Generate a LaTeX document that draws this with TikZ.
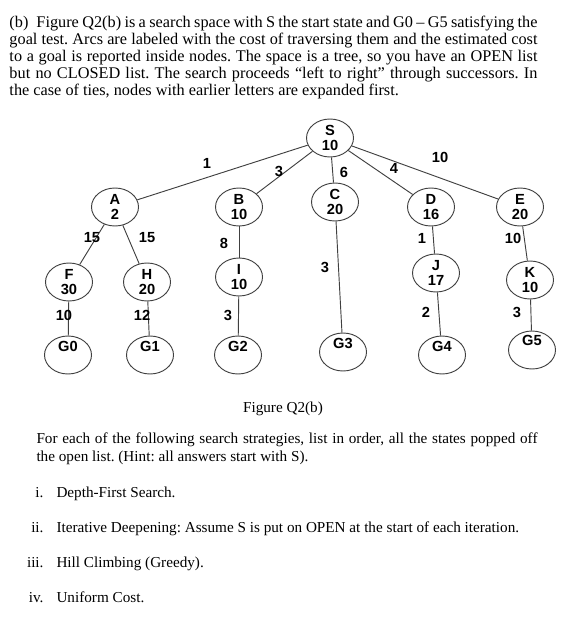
\documentclass[tikz,border=0pt]{standalone}
\usepackage{fontspec}
\setmainfont{Liberation Serif}
\newfontfamily\arialfont{Liberation Sans}
\usetikzlibrary{shapes.geometric}

\newcommand\treefont{\arialfont\bfseries\fontsize{11}{11.5}\selectfont}
\newcommand\bodyfont{\fontsize{11.4}{13.5}\selectfont\frenchspacing}
\newcommand\introfont{\fontsize{12.2}{12.7}\selectfont\frenchspacing}

\tikzset{every picture/.style={line width=0.75pt}}
\tikzset{
  state/.style={draw=black!75, line width=0.7pt, ellipse, minimum width=35.25pt, minimum height=28.5pt, inner sep=0pt, align=center, font=\treefont},
  goal/.style={state},
  glab/.style={inner sep=0pt, font=\treefont},
  cost/.style={inner sep=0.75pt, font=\treefont},
  arc/.style={draw=black!75, line width=0.7pt},
  body/.style={inner sep=0pt, font=\bodyfont}
}

\begin{document}
\begin{tikzpicture}[x=0.75pt,y=0.75pt,yscale=-1,xscale=1]
\useasboundingbox (0,0) rectangle (568,620);

% Text Node
\node [body, font=\introfont, anchor=base west, text width=396pt, align=justify] (intro) at (9,28) {\noindent\hangindent=20.25pt\hangafter=1\makebox[20.25pt][l]{(b)}Figure Q2(b) is a search space with S the start state and G0 -- G5 satisfying the\linebreak goal test. Arcs are labeled with the cost of traversing them and the estimated cost\linebreak to a goal is reported inside nodes. The space is a tree, so you have an OPEN list\linebreak but no CLOSED list. The search proceeds “left to right” through successors. In\linebreak the case of ties, nodes with earlier letters are expanded first.};

%Shape: Ellipse (states)
\node [state] (s) at (330,138) {S\\10};
\node [state] (a) at (115,207) {A\\2};
\node [state] (b) at (239,207) {B\\10};
\node [state] (c) at (335,202) {C\\20};
\node [state] (d) at (431,207) {D\\16};
\node [state] (e) at (520,207) {E\\20};
\node [state] (f) at (69,282) {F\\30};
\node [state] (h) at (147,282) {H\\20};
\node [state] (i) at (239,277) {I\\10};
\node [state] (j) at (436,273) {J\\17};
\node [state] (k) at (530,280) {K\\10};

%Shape: Ellipse (goals)
\node [goal] (g0) at (68,355) {};
\node [goal] (g1) at (150,355) {};
\node [goal] (g2) at (238,355) {};
\node [goal] (g3) at (343,352) {};
\node [goal] (g4) at (442,355) {};
\node [goal] (g5) at (532,350) {};
\path (g0.center) ++(0,-9) node [glab] (g0l) {G0};
\path (g1.center) ++(0,-9) node [glab] (g1l) {G1};
\path (g2.center) ++(0,-9) node [glab] (g2l) {G2};
\path (g3.center) ++(0,-9) node [glab] (g3l) {G3};
\path (g4.center) ++(0,-9) node [glab] (g4l) {G4};
\path (g5.center) ++(0,-10) node [glab] (g5l) {G5};

%Straight Lines
\draw [arc] (s) -- (a);
\draw [arc] (s) -- (b);
\draw [arc] (s) -- (c);
\draw [arc] (s) -- (d);
\draw [arc] (s) -- (e);
\draw [arc] (a) -- (f);
\draw [arc] (a) -- (h);
\draw [arc] (b) -- (i);
\draw [arc] (c) -- (g3);
\draw [arc] (d) -- (j);
\draw [arc] (e) -- (k);
\draw [arc] (f) -- (g0);
\draw [arc] (h) -- (g1);
\draw [arc] (i) -- (g2);
\draw [arc] (j) -- (g4);
\draw [arc] (k) -- (g5);

% Text Node (arc costs)
\node [cost] (csa) at (207,163) {1};
\node [cost] (csb) at (279,171) {3};
\node [cost] (csc) at (344,172) {6};
\node [cost] (csd) at (394,168) {4};
\node [cost] (cse) at (440,157) {10};
\node [cost] (caf) at (92,238) {15};
\node [cost] (cah) at (147,238) {15};
\node [cost] (cbi) at (224,243) {8};
\node [cost] (cdj) at (422,238) {1};
\node [cost] (cek) at (513,238) {10};
\node [cost] (cfg) at (64,315) {10};
\node [cost] (chg) at (142,315) {12};
\node [cost] (cig) at (228,315) {3};
\node [cost] (ccg) at (325,267) {3};
\node [cost] (cjg) at (426,312) {2};
\node [cost] (ckg) at (517,312) {3};

% Text Node
\node [body, anchor=base] (caption) at (283,412) {Figure Q2(b)};
% Text Node
\node [body, anchor=base west, text width=375.75pt, align=justify] (task) at (36,443) {For each of the following search strategies, list in order, all the states popped off\linebreak the open list. (Hint: all answers start with S).};
% Text Node
\node [body, anchor=base east] (n1) at (44,497) {i.};
\node [body, anchor=base west] (t1) at (56,497) {Depth-First Search.};
\node [body, anchor=base east] (n2) at (44,532) {ii.};
\node [body, anchor=base west] (t2) at (56,532) {Iterative Deepening: Assume S is put on OPEN at the start of each iteration.};
\node [body, anchor=base east] (n3) at (44,567) {iii.};
\node [body, anchor=base west] (t3) at (56,567) {Hill Climbing (Greedy).};
\node [body, anchor=base east] (n4) at (44,602) {iv.};
\node [body, anchor=base west] (t4) at (56,602) {Uniform Cost.};

\end{tikzpicture}
\end{document}
